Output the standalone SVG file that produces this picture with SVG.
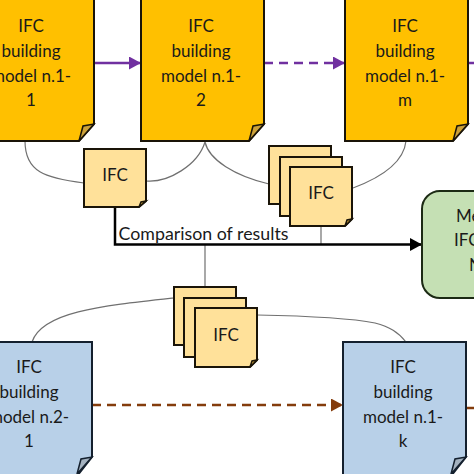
<svg xmlns="http://www.w3.org/2000/svg" width="474" height="474" viewBox="0 0 474 474">
<style>
text{font-family:Lato,"Liberation Sans",sans-serif;font-size:17px;fill:#1a1a1a;text-anchor:middle}
.or{fill:#ffc000;stroke:#1a1408;stroke-width:2}
.bl{fill:#b8d0e8;stroke:#14202e;stroke-width:2}
.ye{fill:#ffe19a;stroke:#1a1408;stroke-width:2}
.fo{fill:#cca13a;stroke:#1a1408;stroke-width:1.5}
.fb{fill:#a4b2c0;stroke:#14202e;stroke-width:1.5}
.cv{fill:none;stroke:#707070;stroke-width:1.2}
.st{text-anchor:start}
</style>
<defs>
<marker id="ap" markerUnits="userSpaceOnUse" markerWidth="13" markerHeight="14" refX="12" refY="6.5" orient="auto"><path d="M0 0L12 6.5L0 13Z" fill="#7030a0"/></marker>
<marker id="ab" markerUnits="userSpaceOnUse" markerWidth="13" markerHeight="14" refX="12" refY="6.5" orient="auto"><path d="M0 0L12 6.5L0 13Z" fill="#843c0c"/></marker>
<marker id="ak" markerUnits="userSpaceOnUse" markerWidth="13" markerHeight="14" refX="12" refY="6.5" orient="auto"><path d="M0 0L12 6.5L0 13Z" fill="#000"/></marker>
</defs>
<g id="connectors">
<path class="cv" d="M25 141C25 172 45 178 84 183"/>
<path class="cv" d="M146 181C168 183 198 165 205 142C209 160 235 176 269 184"/>
<path class="cv" d="M406 141C404 160 385 176 353 188"/>
<path class="cv" d="M32 342C42 312 100 306 174 298"/>
<path class="cv" d="M257 315C310 316 350 318 375 323C390 327 398 332 406 342"/>
<path class="cv" d="M321 226V244M205 244V287"/>
<path d="M95 63H141" fill="none" stroke="#7030a0" stroke-width="2.5" marker-end="url(#ap)"/>
<path d="M264 63H345" fill="none" stroke="#7030a0" stroke-width="2.5" stroke-dasharray="9 6" marker-end="url(#ap)"/>
<path d="M468 63H474" fill="none" stroke="#7030a0" stroke-width="2.5"/>
<path d="M92 405H343" fill="none" stroke="#843c0c" stroke-width="2.5" stroke-dasharray="9 6" marker-end="url(#ab)"/>
<path d="M466 408H474" fill="none" stroke="#843c0c" stroke-width="2.5"/>
<path d="M115 207V244.500H422" fill="none" stroke="#000" stroke-width="2.5" marker-end="url(#ak)"/>
</g>
<text id="label-comparison" x="203.500" y="240" style="font-size:17.800px">Comparison of results</text>
<g id="doc-1"><path class="or" d="M-30 -2H94V124L79 141H-30Z"/><path class="fo" d="M94 124L79 141L83 126Z"/><text x="31" y="32">IFC</text><text x="31" y="57">building</text><text x="31" y="82">model n.1-</text><text x="31" y="106">1</text></g>
<g id="doc-2"><path class="or" d="M141 -2H264V124L249 141H141Z"/><path class="fo" d="M264 124L249 141L253 126Z"/><text x="201" y="32">IFC</text><text x="201" y="57">building</text><text x="201" y="82">model n.1-</text><text x="201" y="106">2</text></g>
<g id="doc-3"><path class="or" d="M345 -2H468V124L453 141H345Z"/><path class="fo" d="M468 124L453 141L457 126Z"/><text x="405" y="32">IFC</text><text x="405" y="57">building</text><text x="405" y="82">model n.1-</text><text x="405" y="106">m</text></g>
<g id="ifc-single"><path class="ye" d="M84 149H146V201L139 207H84Z"/><path class="fo" d="M146 201L139 207L141 202Z"/><text x="115" y="181">IFC</text></g>
<g id="ifc-stack-top"><rect class="ye" x="269" y="146" width="62" height="58"/><rect class="ye" x="280" y="157" width="62" height="59"/><path class="ye" d="M290 167H352V219L345 226H290Z"/><path class="fo" d="M352 219L345 226L347 220Z"/><text x="321" y="199">IFC</text></g>
<g id="merged"><rect x="422" y="191" width="80" height="107" rx="18" fill="#c5e0b4" stroke="#1c2a14" stroke-width="2"/><text class="st" x="456" y="222">Me</text><text class="st" x="454" y="246">IFC</text><text class="st" x="469" y="271">N</text></g>
<g id="ifc-stack-bottom"><rect class="ye" x="174" y="287" width="62" height="58"/><rect class="ye" x="184" y="298" width="62" height="59"/><path class="ye" d="M195 308H257V360L250 367H195Z"/><path class="fo" d="M257 360L250 367L252 361Z"/><text x="226" y="341">IFC</text></g>
<g id="doc-4"><path class="bl" d="M-30 342H92V457L77 476H-30Z"/><path class="fb" d="M92 457L77 474L81 459Z"/><text x="29" y="373">IFC</text><text x="29" y="398">building</text><text x="29" y="423">model n.2-</text><text x="29" y="447">1</text></g>
<g id="doc-5"><path class="bl" d="M343 342H466V457L451 476H343Z"/><path class="fb" d="M466 457L451 474L455 459Z"/><text x="403" y="373">IFC</text><text x="403" y="398">building</text><text x="403" y="423">model n.1-</text><text x="403" y="447">k</text></g>
</svg>
